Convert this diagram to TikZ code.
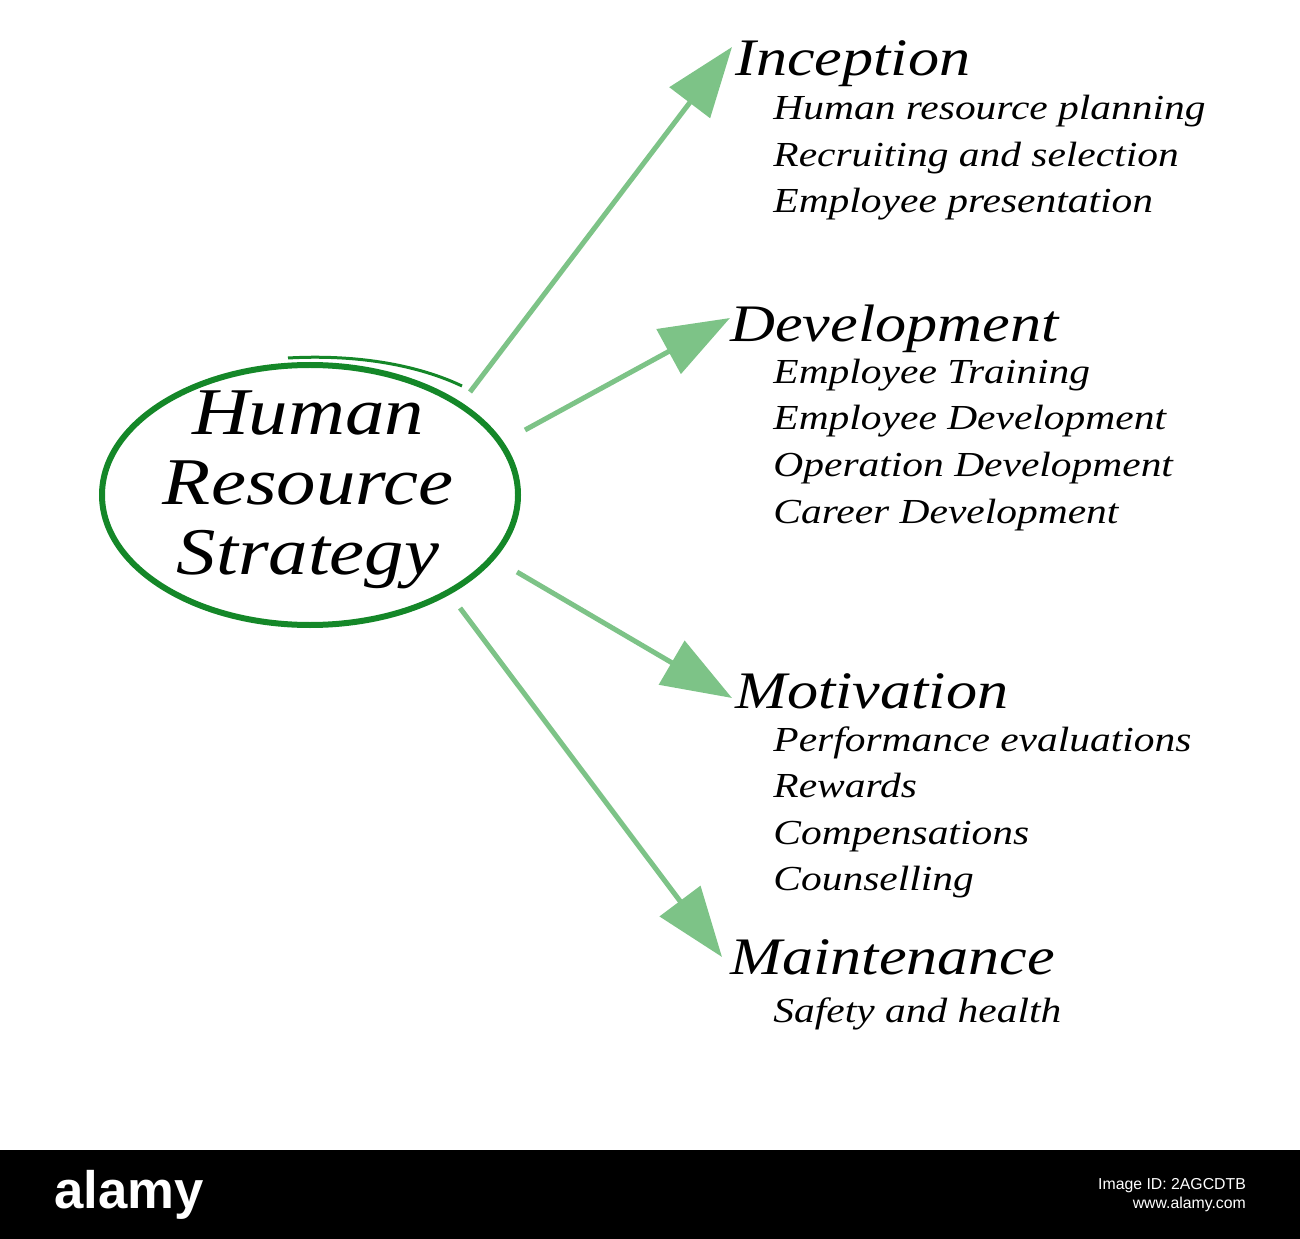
\documentclass[tikz,border=0pt]{standalone}
\usepackage{fontspec}
\setmainfont{Liberation Serif}
\newfontfamily\wmfont{Liberation Sans}
\usetikzlibrary{arrows.meta}
\definecolor{dgreen}{RGB}{20,135,40}
\definecolor{lgreen}{RGB}{125,195,135}
\tikzset{
 head/.style={font=\itshape\fontsize{30}{30}\selectfont,anchor=base west,inner sep=0,xscale=1.18,transform shape},
 item/.style={font=\itshape\fontsize{20}{20}\selectfont,anchor=base west,inner sep=0,align=left,xscale=1.18,transform shape},
 arr/.style={draw=lgreen,line width=0.1cm,-{Triangle[length=1.4cm,width=1.0cm]},fill=lgreen}
}
\begin{document}
\begin{tikzpicture}[x=0.02cm,y=-0.02cm]
\useasboundingbox (0,0) rectangle (1300,1239);
\fill[black] (0,1150) rectangle (1300,1239);
\node[text=white,font=\wmfont\bfseries\fontsize{30}{30}\selectfont,anchor=west] (wm) at (48,1195) {alamy};
\node[text=white,font=\wmfont\fontsize{9}{11}\selectfont,anchor=east,align=right] (wm2) at (1252,1195) {Image ID: 2AGCDTB\\www.alamy.com};
\draw[dgreen,line width=0.12cm] (310,495) ellipse (208 and 130);
\draw[dgreen,line width=0.06cm] (288,358) .. controls (360,354) and (420,366) .. (462,386);
\node[font=\itshape\fontsize{38}{40}\selectfont,align=center,xscale=1.18,transform shape] (hr) at (308,490) {Human\\Resource\\Strategy};
\coordinate (s1) at (470,392); \coordinate (s2) at (525,430);
\coordinate (s3) at (517,572); \coordinate (s4) at (460,608);
\coordinate (e1) at (732,47); \coordinate (e2) at (730,318);
\coordinate (e3) at (732,698); \coordinate (e4) at (722,957);
\draw[arr] (s1) -- (e1);
\draw[arr] (s2) -- (e2);
\draw[arr] (s3) -- (e3);
\draw[arr] (s4) -- (e4);
\node[head] (h1) at (735,76) {Inception};
\node[item] (i1a) at (773,120) {Human resource planning};
\node[item] (i1b) at (773,167) {Recruiting and selection};
\node[item] (i1c) at (773,213) {Employee presentation};
\node[head] (h2) at (730,342) {Development};
\node[item] (i2a) at (773,384) {Employee Training};
\node[item] (i2b) at (773,430) {Employee Development};
\node[item] (i2c) at (773,477) {Operation Development};
\node[item] (i2d) at (773,523) {Career Development};
\node[head] (h3) at (735,708) {Motivation};
\node[item] (i3a) at (773,751) {Performance evaluations};
\node[item] (i3b) at (773,797) {Rewards};
\node[item] (i3c) at (773,844) {Compensations};
\node[item] (i3d) at (773,890) {Counselling};
\node[head] (h4) at (730,974) {Maintenance};
\node[item] (i4a) at (773,1022) {Safety and health};
\end{tikzpicture}
\end{document}
